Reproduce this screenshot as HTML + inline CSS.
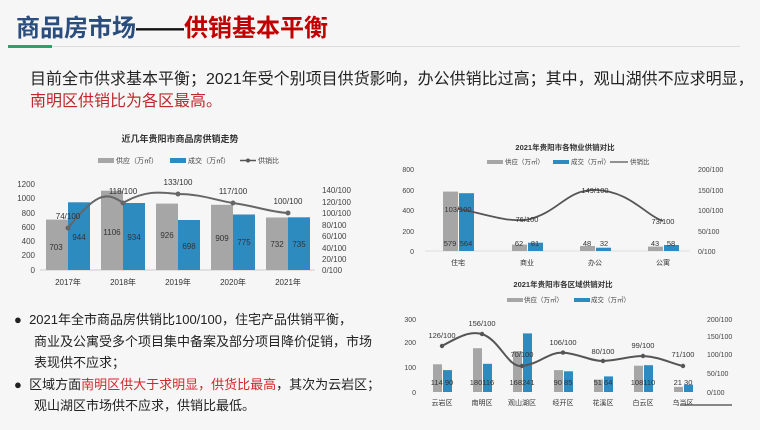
<!DOCTYPE html>
<html><head><meta charset="utf-8"><style>
body{margin:0;width:760px;height:430px;background:#f6f6f6;position:relative;overflow:hidden;font-family:"Liberation Sans","Noto Sans CJK SC",sans-serif;}
.a{position:absolute;white-space:nowrap;}
svg text{font-family:"Liberation Sans","Noto Sans CJK SC",sans-serif;}
</style></head><body>
<div class="a" style="left:16px;top:8px;font-size:24px;font-weight:bold;color:#2b4d7e;letter-spacing:0px">商品房市场<span style="color:#111">——</span><span style="color:#c00000">供销基本平衡</span></div>
<div class="a" style="left:8px;top:46px;width:732px;height:1px;background:#ddd"></div>
<div class="a" style="left:8px;top:45px;width:44px;height:3px;background:#2aa36b"></div>
<div class="a" style="left:30px;top:65px;font-size:16px;color:#222">目前全市供求基本平衡；2021年受个别项目供货影响，办公供销比过高；其中，观山湖供不应求明显，</div>
<div class="a" style="left:30px;top:87px;font-size:16px;color:#c0282d">南明区供销比为各区最高。</div>

<div class="a" style="left:14px;top:309px;font-size:13px;color:#222;line-height:21.5px">
<div>●&nbsp;&nbsp;2021年全市商品房供销比100/100，住宅产品供销平衡，</div>
<div style="padding-left:20px">商业及公寓受多个项目集中备案及部分项目降价促销，市场</div>
<div style="padding-left:20px">表现供不应求；</div>
<div>●&nbsp;&nbsp;区域方面<span style="color:#d0282d">南明区供大于求明显，供货比最高</span>，其次为云岩区；</div>
<div style="padding-left:20px">观山湖区市场供不应求，供销比最低。</div>
</div>

<svg class="a" style="left:0;top:0" width="760" height="430">
<!-- chart1 -->
<text x="180" y="142" font-size="9" font-weight="bold" text-anchor="middle" fill="#333">近几年贵阳市商品房供销走势</text>
<rect x="98" y="158" width="16" height="5" fill="#a6a6a6"/><text x="116" y="163" font-size="7" fill="#444">供应（万㎡）</text>
<rect x="170" y="158" width="16" height="5" fill="#2e8bc0"/><text x="188" y="163" font-size="7" fill="#444">成交（万㎡）</text>
<line x1="240" y1="160.5" x2="256" y2="160.5" stroke="#555" stroke-width="1.5"/><circle cx="248" cy="160.5" r="2" fill="#555"/><text x="258" y="163" font-size="7" fill="#444">供销比</text>
<g font-size="8" fill="#444" text-anchor="end">
<text x="35" y="187">1200</text><text x="35" y="201">1000</text><text x="35" y="216">800</text><text x="35" y="230">600</text><text x="35" y="244">400</text><text x="35" y="258">200</text><text x="35" y="273">0</text></g>
<g font-size="8" fill="#444">
<text x="322" y="193">140/100</text><text x="322" y="205">120/100</text><text x="322" y="216">100/100</text><text x="322" y="228">80/100</text><text x="322" y="239">60/100</text><text x="322" y="251">40/100</text><text x="322" y="262">20/100</text><text x="322" y="273">0/100</text></g>
<line x1="40" y1="270" x2="315" y2="270" stroke="#ccc"/>
<g fill="#a6a6a6">
<rect x="46" y="219.6" width="22" height="50.4"/><rect x="101" y="190.7" width="22" height="79.3"/><rect x="156" y="203.6" width="22" height="66.4"/><rect x="211" y="204.8" width="22" height="65.2"/><rect x="266" y="217.5" width="22" height="52.5"/></g>
<g fill="#2e8bc0">
<rect x="68" y="202.3" width="22" height="67.7"/><rect x="123" y="203" width="22" height="67"/><rect x="178" y="220" width="22" height="50"/><rect x="233" y="214.5" width="22" height="55.5"/><rect x="288" y="217.3" width="22" height="52.7"/></g>
<path d="M68,228 C95,195 105,190 123,203 C145,190 160,192 178,194 C200,194 215,200 233,203 C255,206 270,212 288,213" stroke="#666" stroke-width="2" fill="none"/>
<g fill="#666"><circle cx="68" cy="228" r="2.5"/><circle cx="123" cy="203" r="2.5"/><circle cx="178" cy="194" r="2.5"/><circle cx="233" cy="203" r="2.5"/><circle cx="288" cy="213" r="2.5"/></g>
<g font-size="8" fill="#333" text-anchor="middle">
<text x="68" y="219">74/100</text><text x="123" y="194">118/100</text><text x="178" y="185">133/100</text><text x="233" y="194">117/100</text><text x="288" y="204">100/100</text>
<text x="56" y="250">703</text><text x="79" y="240">944</text><text x="112" y="235">1106</text><text x="134" y="240">934</text><text x="167" y="238">926</text><text x="189" y="249">698</text><text x="222" y="241">909</text><text x="244" y="245">775</text><text x="277" y="247">732</text><text x="299" y="247">735</text>
<text x="68" y="285">2017年</text><text x="123" y="285">2018年</text><text x="178" y="285">2019年</text><text x="233" y="285">2020年</text><text x="288" y="285">2021年</text></g>

<!-- chart2 -->
<text x="565" y="150" font-size="7.5" font-weight="bold" text-anchor="middle" fill="#333">2021年贵阳市各物业供销对比</text>
<rect x="487" y="160" width="16" height="4" fill="#a6a6a6"/><text x="505" y="164" font-size="6.5" fill="#444">供应（万㎡）</text>
<rect x="553" y="160" width="16" height="4" fill="#2e8bc0"/><text x="561" y="164" font-size="6.5" fill="#444" dx="10">成交（万㎡）</text>
<line x1="610" y1="162" x2="628" y2="162" stroke="#555" stroke-width="1.2"/><text x="630" y="164" font-size="6.5" fill="#444">供销比</text>
<g font-size="7" fill="#444" text-anchor="end">
<text x="414" y="172">800</text><text x="414" y="193">600</text><text x="414" y="213">400</text><text x="414" y="234">200</text><text x="414" y="254">0</text></g>
<g font-size="7" fill="#444">
<text x="698" y="172">200/100</text><text x="698" y="193">150/100</text><text x="698" y="213">100/100</text><text x="698" y="234">50/100</text><text x="698" y="254">0/100</text></g>
<line x1="425" y1="251" x2="690" y2="251" stroke="#ddd"/>
<g fill="#a6a6a6"><rect x="443" y="191.6" width="15" height="59.4"/><rect x="512" y="244.6" width="15" height="6.4"/><rect x="580" y="246" width="15" height="5"/><rect x="648" y="246.6" width="15" height="4.4"/></g>
<g fill="#2e8bc0"><rect x="459" y="193.2" width="15" height="57.8"/><rect x="528" y="242.7" width="15" height="8.3"/><rect x="596" y="247.7" width="15" height="3.3"/><rect x="664" y="245" width="15" height="6"/></g>
<path d="M458,208.8 C490,215 505,222 527,219.8 C560,212 565,190 595,189.9 C630,191 645,215 663,221" stroke="#555" stroke-width="1.8" fill="none"/>
<g font-size="7.5" fill="#333" text-anchor="middle">
<text x="458" y="212">103/100</text><text x="527" y="222">76/100</text><text x="595" y="193">149/100</text><text x="663" y="224">73/100</text>
<text x="450" y="246">579</text><text x="466" y="246">564</text><text x="519" y="246">62</text><text x="535" y="246">81</text><text x="587" y="246">48</text><text x="604" y="246">32</text><text x="655" y="246">43</text><text x="671" y="246">58</text></g>
<g font-size="7" fill="#333" text-anchor="middle"><text x="458" y="265">住宅</text><text x="527" y="265">商业</text><text x="595" y="265">办公</text><text x="663" y="265">公寓</text></g>

<!-- chart3 -->
<text x="563" y="287" font-size="7.5" font-weight="bold" text-anchor="middle" fill="#333">2021年贵阳市各区域供销对比</text>
<rect x="507" y="298" width="16" height="4" fill="#a6a6a6"/><text x="524" y="302" font-size="6.5" fill="#444">供应（万㎡）</text>
<rect x="574" y="298" width="16" height="4" fill="#2e8bc0"/><text x="591" y="302" font-size="6.5" fill="#444">成交（万㎡）</text>
<g font-size="7" fill="#444" text-anchor="end">
<text x="416" y="322">300</text><text x="416" y="345">200</text><text x="416" y="370">100</text><text x="416" y="395">0</text></g>
<g font-size="7" fill="#444">
<text x="707" y="322">200/100</text><text x="707" y="339">150/100</text><text x="707" y="357">100/100</text><text x="707" y="376">50/100</text><text x="707" y="395">0/100</text></g>
<g fill="#a6a6a6"><rect x="433" y="364.3" width="9" height="27.7"/><rect x="473" y="348.2" width="9" height="43.8"/><rect x="513" y="351.1" width="9" height="40.9"/><rect x="554" y="370.1" width="9" height="21.9"/><rect x="594" y="379.6" width="9" height="12.4"/><rect x="634" y="365.7" width="9" height="26.3"/><rect x="674" y="386.9" width="9" height="5.1"/></g>
<g fill="#2e8bc0"><rect x="443" y="370.1" width="9" height="21.9"/><rect x="483" y="363.8" width="9" height="28.2"/><rect x="523" y="333.4" width="9" height="58.6"/><rect x="564" y="371.3" width="9" height="20.7"/><rect x="604" y="376.4" width="9" height="15.6"/><rect x="644" y="365.2" width="9" height="26.8"/><rect x="684" y="384.7" width="9" height="7.3"/></g>
<path d="M442,346 C460,336 470,331 482,334 C500,340 508,368 522,366 C540,364 548,352 563,352.6 C580,354 590,361 603,361 C620,360 630,356 643,356 C660,357 670,363 683,366" stroke="#555" stroke-width="2" fill="none"/>
<g fill="#555"><circle cx="442" cy="346" r="2.2"/><circle cx="482" cy="334" r="2.2"/><circle cx="522" cy="366" r="2.2"/><circle cx="563" cy="352.6" r="2.2"/><circle cx="603" cy="361" r="2.2"/><circle cx="643" cy="356" r="2.2"/><circle cx="683" cy="366" r="2.2"/></g>
<g font-size="7.5" fill="#333" text-anchor="middle">
<text x="442" y="338">126/100</text><text x="482" y="326">156/100</text><text x="522" y="357">70/100</text><text x="563" y="345">106/100</text><text x="603" y="354">80/100</text><text x="643" y="348">99/100</text><text x="683" y="357">71/100</text>
<text x="442" y="385">114 90</text><text x="482" y="385">180116</text><text x="522" y="385">168241</text><text x="563" y="385">90 85</text><text x="603" y="385">51 64</text><text x="643" y="385">108110</text><text x="683" y="385">21 30</text></g>
<g font-size="7" fill="#333" text-anchor="middle"><text x="442" y="405">云岩区</text><text x="482" y="405">南明区</text><text x="522" y="405">观山湖区</text><text x="563" y="405">经开区</text><text x="603" y="405">花溪区</text><text x="643" y="405">白云区</text><text x="683" y="405">乌当区</text></g>
<line x1="680" y1="405" x2="732" y2="405" stroke="#444" stroke-width="1.2"/>
</svg>
</body></html>
